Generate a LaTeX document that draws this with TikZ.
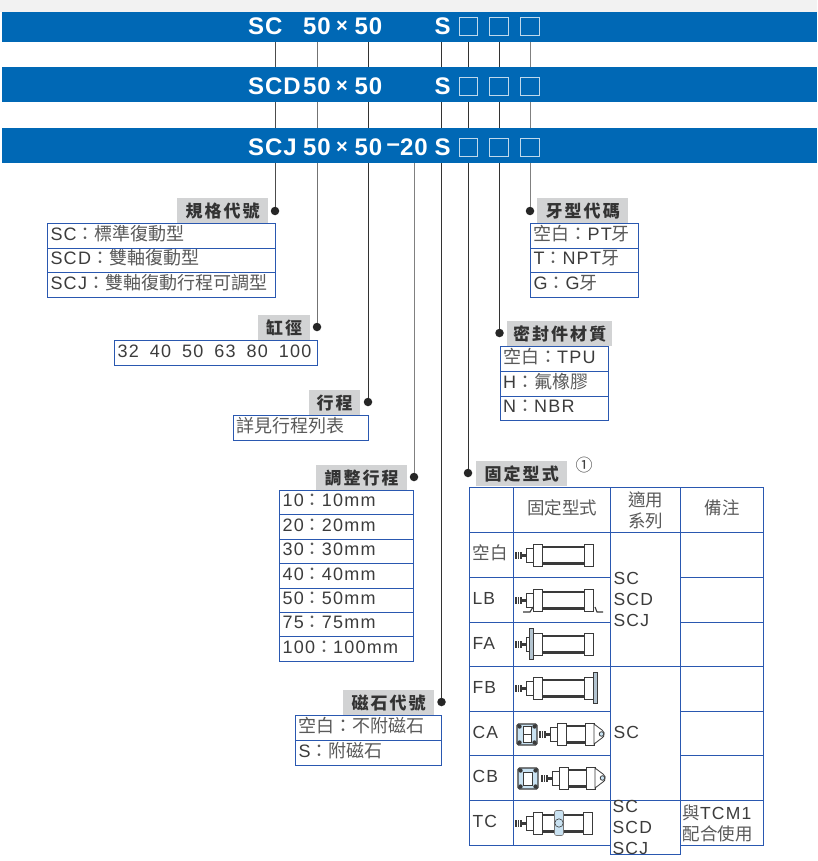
\documentclass[tikz,border=0pt]{standalone}
\usepackage{fontspec}
\setmainfont[LetterSpace=7]{Liberation Sans}
\newfontfamily\cjk{Noto Sans CJK TC}
\newfontfamily\cjktag[LetterSpace=12]{Noto Sans CJK TC}
\newfontfamily\headfont[LetterSpace=4]{Liberation Sans}
\definecolor{barblue}{HTML}{0068B5}
\definecolor{tabline}{HTML}{2A58B0}
\definecolor{taggray}{HTML}{D2D3D4}
\definecolor{cjkgray}{HTML}{5A5A5A}
\definecolor{latgray}{HTML}{3C3C3C}
\definecolor{cyldark}{HTML}{3A3A3A}
\definecolor{iceblue}{HTML}{C9E2F2}
\newcommand{\cj}[1]{{\cjk\textcolor{cjkgray}{#1}}}
\tikzset{
    barnode/.style={fill=barblue,anchor=north west,inner sep=0pt,minimum width=815pt,minimum height=#1},
    headtext/.style={white,anchor=west,inner sep=0pt,font=\headfont\fontsize{24}{24}\selectfont\bfseries},
    keybox/.style={draw=white!75!barblue,line width=.9pt,minimum size=18.5pt,inner sep=0pt},
    dotmark/.style={circle,fill=black!85,minimum size=8.5pt,inner sep=0pt},
    tagbox/.style={fill=taggray,anchor=north west,inner sep=0pt,minimum height=25pt,minimum width=#1,text=black!80,font=\cjktag\fontsize{17}{17}\selectfont\bfseries},
    rowcell/.style 2 args={draw=tabline,line width=1pt,anchor=north west,inner xsep=3pt,inner ysep=0pt,
        text width=#1,minimum height=#2,align=left,text=latgray,text height=13pt,text depth=4pt,
        font=\fontsize{18}{21}\selectfont},
    gridcell/.style 2 args={draw=tabline,line width=1pt,anchor=north west,inner xsep=3pt,inner ysep=0pt,
        text width=#1,minimum height=#2,align=left,text=latgray,font=\fontsize{17.5}{21}\selectfont},
    oneline/.style={text height=13pt,text depth=4pt},
    cylpart/.style={draw=cyldark,line width=.8pt,fill=white},
    pics/cyl/.style={code={
        \fill[cyldark] (0,-3.5) rectangle (7,3.5);
        \draw[white,line width=.4pt] (2.3,-3.5)--(2.3,3.5) (4.6,-3.5)--(4.6,3.5);
        \fill[cyldark] (7,-1.5) rectangle (11,1.5);
        \draw[cylpart] (11,-7) rectangle (18,7);
        \draw[cylpart] (18,-11) rectangle (27,11);
        \draw[cylpart] (27,-9) rectangle ({27+#1},9);
        \draw[cyldark,line width=2pt] (27,-8)--({27+#1},-8) (27,8)--({27+#1},8);
        \draw[cylpart] ({27+#1},-11) rectangle ({36+#1},11);
    }},
    pics/feet/.style={code={
        \draw[cyldark,line width=1.1pt] (8,12)--(15,12)--(18,7) (80,7)--(82,12)--(88,12);
    }},
    pics/flange/.style={code={
        \draw[draw=cyldark,line width=.7pt,fill=iceblue!70!gray] (-2,-15.5) rectangle (2,15.5);
    }},
    pics/clevis/.style={code={
        \draw[cylpart] (0,-10) -- (8,-4) arc (-60:60:4.6) -- (0,10) -- cycle;
        \draw[cyldark,fill=iceblue,line width=.8pt] (7.5,0) circle (2.3);
    }},
    pics/platea/.style={code={
        \draw[draw=cyldark,line width=1.2pt,fill=iceblue,rounded corners=1.5pt] (-10,-10.5) rectangle (10,10.5);
        \draw[cylpart,line width=.5pt] (-4,-8) rectangle (4,8);
        \draw[cyldark,line width=.5pt] (-4,0)--(4,0);
        \foreach \cornerx/\cornery in {-7.5/-8,7.5/-8,-7.5/8,7.5/8}
            \fill[cyldark] (\cornerx,\cornery) circle (2.2);
    }},
    pics/plateb/.style={code={
        \draw[draw=cyldark,line width=1.2pt,fill=iceblue,rounded corners=1.5pt] (-10,-10.5) rectangle (10,10.5);
        \draw[cylpart,line width=.7pt] (-4.5,-6.5) rectangle (4.5,6.5);
        \foreach \cornerx/\cornery in {-7.5/-8,7.5/-8,-7.5/8,7.5/8}
            \fill[cyldark] (\cornerx,\cornery) circle (2.2);
    }},
    pics/trunnion/.style={code={
        \draw[draw=cyldark!70,line width=.6pt,fill=iceblue,rounded corners=2pt] (-4.5,-12.5) rectangle (4.5,12.5);
        \draw[cyldark,line width=.6pt,fill=iceblue] (0,0) circle (4.2);
    }},
}
\begin{document}
\begin{tikzpicture}[x=1pt,y=-1pt]
    \useasboundingbox (0,0) rectangle (817,861);
    \fill[white] (0,0) rectangle (817,861);
    \fill[black!5] (0,0) rectangle (817,12);
    % the three title bars
    \foreach \barname/\bary/\barh/\barmid/\bartext in {barA/12/30pt/26.5/SC,barB/67/35pt/86.5/SCD,barC/128/35pt/147.5/SCJ} {
        \node[barnode=\barh] (\barname) at (2,\bary) {};
        \node[headtext] (\barname type) at (248,\barmid) {\bartext};
        \node[headtext] (\barname bore) at (303,\barmid) {50};
        \node[headtext,font=\headfont\fontsize{20}{20}\selectfont\bfseries] (\barname times) at (336,\barmid) {×};
        \node[headtext] (\barname stroke) at (354.5,\barmid) {50};
        \node[headtext] (\barname mag) at (434.5,\barmid) {S};
        \node[keybox] (\barname keyA) at (468.5,\barmid) {};
        \node[keybox] (\barname keyB) at (499,\barmid) {};
        \node[keybox] (\barname keyC) at (530,\barmid) {};
    }
    \node[headtext] (barCdash) at (386.5,147.5) {–};
    \node[headtext] (barCadjust) at (400,147.5) {20};
    % dots
    \node[dotmark] (dotSpec) at (275,211) {};
    \node[dotmark] (dotBore) at (317,327) {};
    \node[dotmark] (dotStroke) at (368,402) {};
    \node[dotmark] (dotAdjust) at (414,477) {};
    \node[dotmark] (dotMagnet) at (441.5,702) {};
    \node[dotmark] (dotMount) at (468,473) {};
    \node[dotmark] (dotSeal) at (499.5,333) {};
    \node[dotmark] (dotThread) at (530,211) {};
    % connectors
    \foreach \dotname/\linecol in {dotSpec/black!70,dotBore/black!55,dotStroke/black!80,dotMagnet/black!80,dotMount/black!80,dotSeal/black!80,dotThread/black!50} {
        \draw[\linecol,line width=.9pt] (barA.south -| \dotname) -- (barB.north -| \dotname);
        \draw[\linecol,line width=.9pt] (barB.south -| \dotname) -- (barC.north -| \dotname);
        \draw[\linecol,line width=.9pt] (barC.south -| \dotname) -- (\dotname);
    }
    \draw[black!50,line width=.9pt] (barC.south -| dotAdjust) -- (dotAdjust);
    % tags
    \node[tagbox=91pt] (tagSpec) at (177,198) {規格代號};
    \node[tagbox=52pt] (tagBore) at (258,315) {缸徑};
    \node[tagbox=51pt] (tagStroke) at (309,390) {行程};
    \node[tagbox=91pt] (tagAdjust) at (316,465) {調整行程};
    \node[tagbox=91pt] (tagMagnet) at (343,690) {磁石代號};
    \node[tagbox=91pt] (tagMount) at (476,461) {固定型式};
    \node[tagbox=105pt] (tagSeal) at (507,321) {密封件材質};
    \node[tagbox=91pt] (tagThread) at (537,198) {牙型代碼};
    \node[text=black!75,inner sep=0pt,font=\cjk\fontsize{17}{17}\selectfont] (noteMark) at (584,465) {①};
    % option lists
    \foreach \rowname/\rowy/\rowtext in {specA/223/{SC\cj{：標準復動型}},specB/247.5/{SCD\cj{：雙軸復動型}},specC/272/{SCJ\cj{：雙軸復動行程可調型}}}
        \node[rowcell={222pt}{24.5pt}] (\rowname) at (47,\rowy) {\rowtext};
    \node[rowcell={197pt}{25pt}] (boreList) at (114,340) {32\hspace{11pt}40\hspace{11pt}50\hspace{11pt}63\hspace{11pt}80\hspace{11pt}100};
    \node[rowcell={129pt}{25pt}] (strokeList) at (233,415) {\cj{詳見行程列表}};
    \foreach \rowname/\rowy/\rowtext in {adjA/489.5/{10\cj{：}10mm},adjB/514/{20\cj{：}20mm},adjC/538.5/{30\cj{：}30mm},adjD/563/{40\cj{：}40mm},adjE/587.5/{50\cj{：}50mm},adjF/611.5/{75\cj{：}75mm},adjG/636/{100\cj{：}100mm}}
        \node[rowcell={128pt}{24.5pt}] (\rowname) at (279,\rowy) {\rowtext};
    \foreach \rowname/\rowy/\rowtext in {magA/714.5/{\cj{空白：不附磁石}},magB/739.5/{S\cj{：附磁石}}}
        \node[rowcell={140pt}{25pt}] (\rowname) at (295,\rowy) {\rowtext};
    \foreach \rowname/\rowy/\rowtext in {threadA/223/{\cj{空白：}PT\cj{牙}},threadB/247.5/{T\cj{：}NPT\cj{牙}},threadC/272/{G\cj{：}G\cj{牙}}}
        \node[rowcell={102pt}{24.5pt}] (\rowname) at (530,\rowy) {\rowtext};
    \foreach \rowname/\rowy/\rowtext in {sealA/346/{\cj{空白：}TPU},sealB/371/{H\cj{：氟橡膠}},sealC/395.5/{N\cj{：}NBR}}
        \node[rowcell={102pt}{24.5pt}] (\rowname) at (499.5,\rowy) {\rowtext};
    % mounting table
    \node[gridcell={38pt}{45pt}] (headKey) at (469,487) {};
    \node[gridcell={91pt}{45pt},align=center,oneline] (headPic) at (513,487) {\cj{固定型式}};
    \node[gridcell={64pt}{45pt},align=center] (headSeries) at (610,487) {\cj{適用}\\\cj{系列}};
    \node[gridcell={77pt}{45pt},align=center,oneline] (headNote) at (680,487) {\cj{備注}};
    \foreach \rowname/\rowy/\rowh/\rowtext in {Blank/532/45pt/{\cj{空白}},LB/577/45pt/LB,FA/622/44pt/FA,FB/666/45pt/FB,CA/711/44pt/CA,CB/755/45pt/CB,TC/800/45pt/TC} {
        \node[gridcell={38pt}{\rowh},oneline] (key\rowname) at (469,\rowy) {\rowtext};
        \node[gridcell={91pt}{\rowh}] (pic\rowname) at (513,\rowy) {};
    }
    \foreach \rowname/\rowy/\rowh in {Blank/532/45pt,LB/577/45pt,FA/622/44pt,FB/666/45pt,CA/711/44pt,CB/755/45pt}
        \node[gridcell={77pt}{\rowh}] (note\rowname) at (680,\rowy) {};
    \node[gridcell={64pt}{134pt}] (seriesA) at (610,532) {SC\\SCD\\SCJ};
    \node[gridcell={64pt}{134pt},oneline] (seriesB) at (610,666) {SC};
    \node[gridcell={66pt}{45pt},inner xsep=2pt] (seriesC) at (610,800) {SC SCD\\SCJ};
    \node[gridcell={79pt}{45pt},inner xsep=2pt] (noteTC) at (680,800) {\cj{與}TCM1\\\cj{配合使用}};
    % cylinders
    \pic at (515,555) {cyl=42};
    \pic at (515,600) {cyl=42};
    \pic at (515,600) {feet};
    \pic at (515,644) {cyl=42};
    \pic at (531,644) {flange};
    \pic at (515,688) {cyl=42};
    \pic at (595,688) {flange};
    \pic at (527,734.5) {platea};
    \pic at (539,734) {cyl=19};
    \pic at (594,734) {clevis};
    \pic at (528,778.5) {plateb};
    \pic at (541,778) {cyl=18};
    \pic at (595,778) {clevis};
    \pic at (515,823) {cyl=41};
    \pic at (559,823) {trunnion};
\end{tikzpicture}
\end{document}
